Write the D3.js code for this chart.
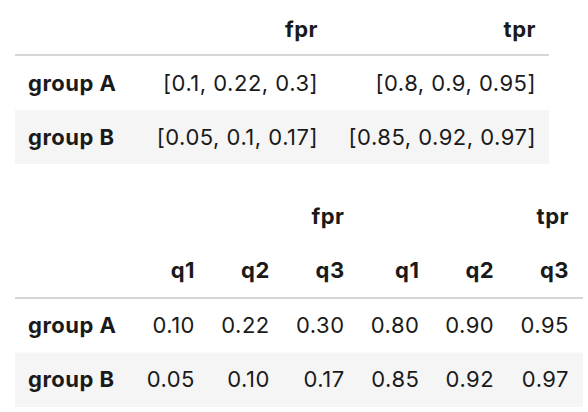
<!DOCTYPE html>
<html><head><meta charset="utf-8">
<script src="https://cdn.jsdelivr.net/npm/d3@7.9.0/dist/d3.min.js"></script>
<style>
body{margin:0;background:#fff}
text{font-family:Inter,"Open Sans",sans-serif;font-size:22px;letter-spacing:0.5px;fill:#1a1a1a}
.b{font-weight:700}
</style></head><body>
<svg id="chart" width="588" height="412"></svg>
<script>
// data
const groups = ['group A', 'group B'];
const fpr = [[0.1, 0.22, 0.3], [0.05, 0.1, 0.17]];
const tpr = [[0.8, 0.9, 0.95], [0.85, 0.92, 0.97]];
const quantiles = ['q1', 'q2', 'q3'];

const svg = d3.select('#chart');
const fmtList = (a) => '[' + a.join(', ') + ']';

// first table: lists in cells
const x1 = d3.scaleOrdinal().domain(['fpr', 'tpr']).range([318, 536]);
const y1 = d3.scaleBand().domain(['head', ...groups]).range([2, 164]);

svg.append('rect').attr('x', 15).attr('y', y1('group B')).attr('width', 534)
  .attr('height', y1.bandwidth()).attr('fill', '#f5f5f5');
svg.append('line').attr('x1', 15).attr('x2', 549).attr('y1', 55).attr('y2', 55)
  .attr('stroke', '#c8c8c8').attr('stroke-width', 1.5);

x1.domain().forEach((c) => {
  svg.append('text').attr('class', 'b').attr('x', x1(c)).attr('y', y1('head') + y1.bandwidth() / 2)
    .attr('dy', '0.35em').attr('text-anchor', 'end').text(c);
});
groups.forEach((g, i) => {
  const cy = y1(g) + y1.bandwidth() / 2;
  svg.append('text').attr('class', 'b').attr('x', 28).attr('y', cy).attr('dy', '0.35em').text(g);
  svg.append('text').attr('x', x1('fpr')).attr('y', cy).attr('dy', '0.35em').attr('text-anchor', 'end').text(fmtList(fpr[i]));
  svg.append('text').attr('x', x1('tpr')).attr('y', cy).attr('dy', '0.35em').attr('text-anchor', 'end').text(fmtList(tpr[i]));
});

// second table: expanded quantile columns
const cols = ['fpr', 'tpr'].flatMap((m) => quantiles.map((q) => m + '_' + q));
const x2 = d3.scalePoint().domain(cols).range([195, 569]);
const y2 = d3.scaleBand().domain(['head1', 'head2', ...groups]).range([189, 407]);

svg.append('rect').attr('x', 15).attr('y', y2('group B')).attr('width', 568)
  .attr('height', y2.bandwidth()).attr('fill', '#f5f5f5');
svg.append('line').attr('x1', 15).attr('x2', 583).attr('y1', y2('group A')).attr('y2', y2('group A'))
  .attr('stroke', '#c8c8c8').attr('stroke-width', 1.5);

['fpr', 'tpr'].forEach((m) => {
  svg.append('text').attr('class', 'b').attr('x', x2(m + '_q3')).attr('y', y2('head1') + y2.bandwidth() / 2)
    .attr('dy', '0.35em').attr('text-anchor', 'end').text(m);
});
cols.forEach((c) => {
  svg.append('text').attr('class', 'b').attr('x', x2(c)).attr('y', y2('head2') + y2.bandwidth() / 2)
    .attr('dy', '0.35em').attr('text-anchor', 'end').text(c.split('_')[1]);
});
groups.forEach((g, i) => {
  const cy = y2(g) + y2.bandwidth() / 2;
  const vals = [...fpr[i], ...tpr[i]];
  svg.append('text').attr('class', 'b').attr('x', 28).attr('y', cy).attr('dy', '0.35em').text(g);
  cols.forEach((c, j) => {
    svg.append('text').attr('x', x2(c)).attr('y', cy).attr('dy', '0.35em').attr('text-anchor', 'end').text(d3.format('.2f')(vals[j]));
  });
});
</script>
</body></html>
